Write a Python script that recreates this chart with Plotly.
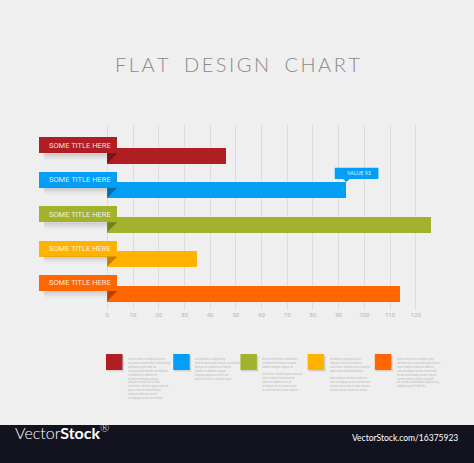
import plotly.graph_objects as go

# data
categories = ["SOME TITLE HERE"] * 5
values = [46, 93, 126, 35, 114]
colors = ["#b01e23", "#049ff5", "#a3b22d", "#ffb300", "#ff6600"]
folds = ["#7c1215", "#0370ad", "#72801c", "#c07f00", "#b34400"]
tick_vals = list(range(0, 130, 10))
callout_index = 1
callout_text = "VALUE 93"
title_text = "FLAT DESIGN CHART"

W, H = 474, 463
BG = "#efefef"
BAR_W = 0.465          # bar thickness in category units
LABEL_X0, LABEL_X1 = -26.6, 3.9
LABEL_DY = -0.31       # label ribbon sits a bit above its bar


def px(x):
    return x / W


def py(y):
    return 1 - y / H


fig = go.Figure()

# value bars
fig.add_trace(go.Bar(
    y=list(range(len(values))), x=values, orientation="h",
    width=BAR_W, marker=dict(color=colors, line=dict(width=0)),
    hoverinfo="x", showlegend=False,
))

# soft shadow under each ribbon
for i in range(len(values)):
    bottom = i + LABEL_DY + BAR_W / 2
    for k, a in enumerate([0.07, 0.045, 0.025]):
        fig.add_shape(type="rect", xref="x", yref="y", layer="above",
                      x0=LABEL_X0 + 2, x1=0, y0=bottom, y1=bottom + 0.07 * (k + 1),
                      fillcolor=f"rgba(0,0,0,{a})", line_width=0)

# title ribbons
fig.add_trace(go.Bar(
    y=[i + LABEL_DY for i in range(len(values))],
    x=[LABEL_X1 - LABEL_X0] * len(values), base=LABEL_X0, orientation="h",
    width=BAR_W, marker=dict(color=colors, line=dict(width=0)),
    hoverinfo="skip", showlegend=False,
))

# folded corner under each ribbon
for i, c in enumerate(folds):
    top = i + LABEL_DY + BAR_W / 2
    fig.add_shape(type="path", xref="x", yref="y", layer="above",
                  path=f"M 0 {top} L {LABEL_X1} {top} L 0 {top + 0.29} Z",
                  fillcolor=c, line_width=0)

for i, name in enumerate(categories):
    fig.add_annotation(x=LABEL_X0 + 3, y=i + LABEL_DY, xref="x", yref="y",
                       text=name, showarrow=False, xanchor="left",
                       font=dict(family="Roboto", size=7.5, color="rgba(255,255,255,0.85)"))

# callout above the highlighted bar
v = values[callout_index]
c_bottom = callout_index - 0.335
fig.add_shape(type="rect", xref="x", yref="y", layer="above",
              x0=v - 4.5, x1=v + 12.5, y0=c_bottom, y1=c_bottom - 0.32,
              fillcolor=colors[callout_index], line_width=0)
fig.add_shape(type="path", xref="x", yref="y", layer="above",
              path=f"M {v - 1.3} {c_bottom} L {v + 1.3} {c_bottom} L {v} {c_bottom + 0.09} Z",
              fillcolor=colors[callout_index], line_width=0)
fig.add_annotation(x=v + 10.5, y=c_bottom - 0.16, xref="x", yref="y",
                   text=callout_text, showarrow=False, xanchor="right",
                   font=dict(family="Roboto", size=5.5, color="rgba(255,255,255,0.85)"))

# chart title
fig.add_annotation(x=0.5, y=py(64), xref="paper", yref="paper", yanchor="middle",
                   text="\u2009".join(title_text).replace("\u2009 \u2009", "\u2009\u2009 \u2009\u2009"),
                   showarrow=False, height=24, valign="middle",
                   font=dict(family="Lato", size=20, color="#8a8a8a", weight=300))

# color key with placeholder text under the chart
lorem = ("Lorem ipsum dolor sit amet consectetur adipiscing elit sed do eiusmod "
         "tempor incididunt ut labore et dolore magna aliqua ut enim ad minim veniam "
         "quis nostrud exercitation ullamco laboris nisi ut aliquip ex ea commodo").split()
line_counts = [[11], [6], [3, 5], [4, 4], [8]]
for i, c in enumerate(colors):
    x0 = 106 + 67.2 * i
    fig.add_shape(type="rect", xref="paper", yref="paper",
                  x0=px(x0 + 1), x1=px(x0 + 18), y0=py(371.5), y1=py(356),
                  fillcolor="rgba(0,0,0,0.12)", line_width=0)
    fig.add_shape(type="rect", xref="paper", yref="paper",
                  x0=px(x0), x1=px(x0 + 16.5), y0=py(370), y1=py(354),
                  fillcolor=c, line_width=0)
    y = 354.5
    w = i * 5
    for n in line_counts[i]:
        lines = []
        for k in range(n):
            words, j = [], w + k * 3
            while len(" ".join(words)) < 22:
                words.append(lorem[j % len(lorem)])
                j += 1
            lines.append(" ".join(words))
        w += 11
        fig.add_annotation(x=px(x0 + 20), y=py(y), xref="paper", yref="paper",
                           text="<br>".join(lines), showarrow=False,
                           xanchor="left", yanchor="top", align="left",
                           font=dict(family="Roboto", size=3, color="#bdbdbd"))
        y += n * 3.6 + 5

# footer band
fig.add_shape(type="rect", xref="paper", yref="paper", x0=0, x1=1, y0=0, y1=py(425),
              fillcolor="#13131f", line_width=0)
fig.add_annotation(x=px(13), y=py(444), xref="paper", yref="paper",
                   text="Vector<b>Stock</b><sup>®</sup>", showarrow=False, xanchor="left",
                   font=dict(family="Lato", size=16, color="white", weight=300))
fig.add_annotation(x=px(460), y=py(445), xref="paper", yref="paper",
                   text="VectorStock.com/16375923", showarrow=False, xanchor="right",
                   font=dict(family="Lato", size=8.5, color="white"))

fig.update_layout(
    width=W, height=H, margin=dict(l=0, r=0, t=0, b=0),
    paper_bgcolor=BG, plot_bgcolor=BG, barmode="overlay", bargap=0,
    xaxis=dict(range=[-107.3 / 2.57, (W - 107.3) / 2.57], domain=[0, 1],
               tickvals=tick_vals, showgrid=True, gridcolor="#dcdcdc", gridwidth=1,
               zeroline=False, showline=False, ticks="",
               tickfont=dict(family="Roboto", size=6, color="#b5b5b5")),
    yaxis=dict(range=[(310 - 156) / 34.4, (125 - 156) / 34.4],
               domain=[py(310), py(125)], showgrid=False, zeroline=False,
               showticklabels=False, fixedrange=True),
)

fig.write_html("out.html", config={"displayModeBar": False},
               post_script="document.body.style.margin='0';")
